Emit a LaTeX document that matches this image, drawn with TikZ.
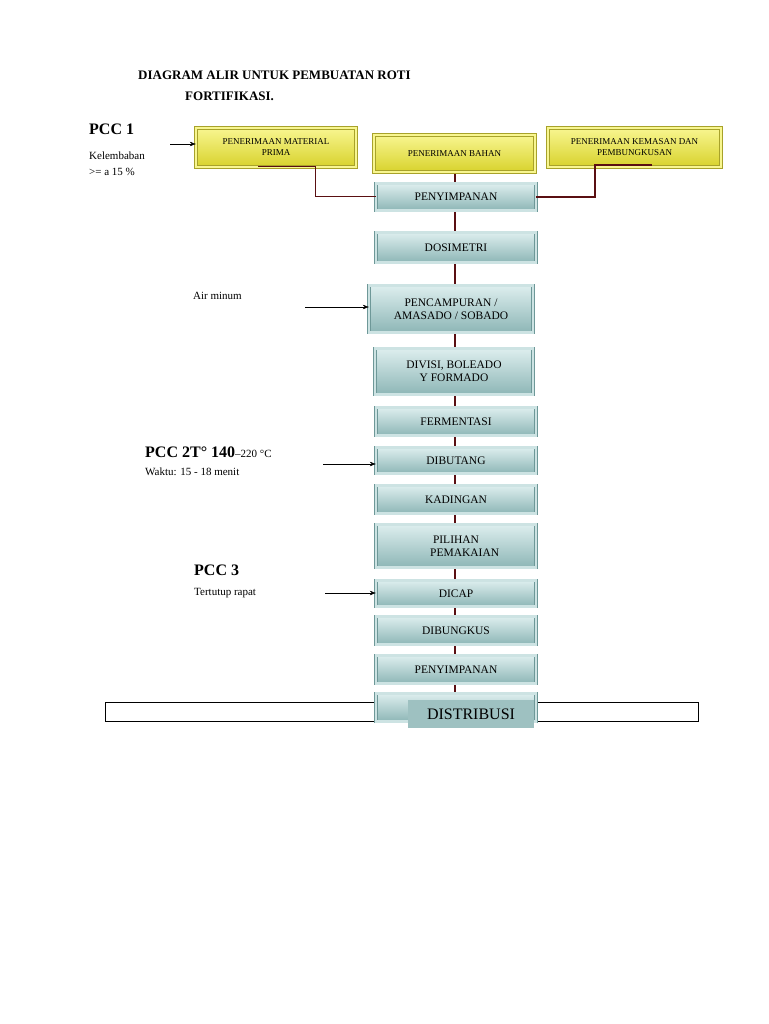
\documentclass[tikz,border=0pt]{standalone}
\usepackage{fontspec}
\setmainfont{Liberation Serif}
\usetikzlibrary{arrows.meta}
\definecolor{tealA}{HTML}{DDEEEE}
\definecolor{tealB}{HTML}{8DB6B6}
\definecolor{tealE}{HTML}{6E9898}
\definecolor{yelA}{HTML}{F8F690}
\definecolor{yelB}{HTML}{D8D22C}
\definecolor{yelE}{HTML}{A8A22A}
\definecolor{flow}{HTML}{5A0F12}
\tikzset{
  procbox/.style={draw=tealE, double=tealA!80!tealB, double distance=2.5pt,
    top color=tealA, bottom color=tealB, inner sep=1pt, align=center, font=\fontsize{11.5}{13}\selectfont},
  recv/.style={draw=yelE, double=yelA, double distance=2.5pt,
    top color=yelA, bottom color=yelB, inner sep=1pt, align=center, font=\fontsize{9}{11}\selectfont},
  flowline/.style={draw=flow, line width=2.5pt},
  note/.style={anchor=north west, inner sep=0pt, align=left}
}
\begin{document}
\begin{tikzpicture}[x=1pt,y=-1pt]
    \useasboundingbox (0,0) rectangle (768,1024);

    % title
    \node [note, font=\bfseries\fontsize{13}{15}\selectfont] at (138,71) (title1) {DIAGRAM ALIR UNTUK PEMBUATAN ROTI};
    \node [note, font=\bfseries\fontsize{13}{15}\selectfont] at (185,92) (title2) {FORTIFIKASI.};

    % long bar behind distribusi
    \node [draw, minimum width=593pt, minimum height=19pt, inner sep=0pt] at (401.5,711.5) (bar) {};

    % flow line
    \coordinate (top) at (455,173);
    \coordinate (bot) at (455,693);
    \path [flowline] (top) -- (bot);

    % reception boxes
    \node [recv, minimum width=160pt, minimum height=39pt] at (276,147.5) (PMP) {PENERIMAAN MATERIAL\\PRIMA};
    \node [recv, minimum width=161pt, minimum height=37pt] at (454.5,153.5) (PB) {PENERIMAAN BAHAN};
    \node [recv, minimum width=173pt, minimum height=39pt] at (634.5,147.5) (PKD) {PENERIMAAN KEMASAN DAN\\PEMBUNGKUSAN};

    % steps
    \node [procbox, minimum width=160pt, minimum height=27pt] at (456,197) (S1) {PENYIMPANAN};
    \node [procbox, minimum width=160pt, minimum height=30pt] at (456,247.5) (S2) {DOSIMETRI};
    \node [procbox, minimum width=164pt, minimum height=47pt] at (451,309) (S3) {PENCAMPURAN /\\AMASADO / SOBADO};
    \node [procbox, minimum width=158pt, minimum height=46pt] at (454,371.5) (S4) {DIVISI, BOLEADO\\Y FORMADO};
    \node [procbox, minimum width=160pt, minimum height=28pt] at (456,421.5) (S5) {FERMENTASI};
    \node [procbox, minimum width=160pt, minimum height=26pt] at (456,460.5) (S6) {DIBUTANG};
    \node [procbox, minimum width=160pt, minimum height=28pt] at (456,499.5) (S7) {KADINGAN};
    \node [procbox, minimum width=160pt, minimum height=43pt] at (456,546) (S8) {PILIHAN\\\hspace*{1.5em}PEMAKAIAN};
    \node [procbox, minimum width=160pt, minimum height=26pt] at (456,593.5) (S9) {DICAP};
    \node [procbox, minimum width=160pt, minimum height=28pt] at (456,630.5) (S10) {DIBUNGKUS};
    \node [procbox, minimum width=160pt, minimum height=28pt] at (456,669.5) (S11) {PENYIMPANAN};
    \node [procbox, minimum width=160pt, minimum height=28pt] at (456,707.5) (S12) {};
    \node [fill=tealB!85!white, minimum width=126pt, minimum height=28pt, inner sep=0pt,
           font=\fontsize{16}{18}\selectfont] at (471,714) (dist) {DISTRIBUSI};

    % side connectors
    \coordinate (PMPb) at (315,167);
    \coordinate (PKDb) at (595,165);
    \path [draw=flow, line width=1pt] (258,167) -- (PMPb) |- (S1.west);
    \path [draw=flow, line width=2pt] (652,165) -- (PKDb) |- (S1.east);

    % notes
    \node [note, font=\bfseries\fontsize{16}{18}\selectfont] at (89,124) (pcc1) {PCC 1};
    \node [note, font=\fontsize{11}{16}\selectfont] at (89,152) (kel) {Kelembaban\\>= a 15 \%};
    \node [note, font=\fontsize{11}{13}\selectfont] at (193,292) (air) {Air minum};
    \node [note, font=\fontsize{11}{13}\selectfont] at (145,447)
        (pcc2) {{\bfseries\fontsize{16}{18}\selectfont PCC 2T\textdegree{} 140}--220 \textdegree C};
    \node [note, font=\fontsize{11}{13}\selectfont] at (145,468) (waktu) {Waktu: 15 - 18 menit};
    \node [note, font=\bfseries\fontsize{16}{18}\selectfont] at (194,565) (pcc3) {PCC 3};
    \node [note, font=\fontsize{11}{13}\selectfont] at (194,588) (tutup) {Tertutup rapat};

    % arrows
    \coordinate (a1) at (170,144);
    \coordinate (a2) at (305,307);
    \coordinate (a3) at (323,464);
    \coordinate (a4) at (325,593);
    \path [-{Stealth[length=6pt]}, draw] (a1) -- (a1 -| PMP.west);
    \path [-{Stealth[length=6pt]}, draw] (a2) -- (a2 -| S3.west);
    \path [-{Stealth[length=6pt]}, draw] (a3) -- (a3 -| S6.west);
    \path [-{Stealth[length=6pt]}, draw] (a4) -- (a4 -| S9.west);
\end{tikzpicture}
\end{document}
